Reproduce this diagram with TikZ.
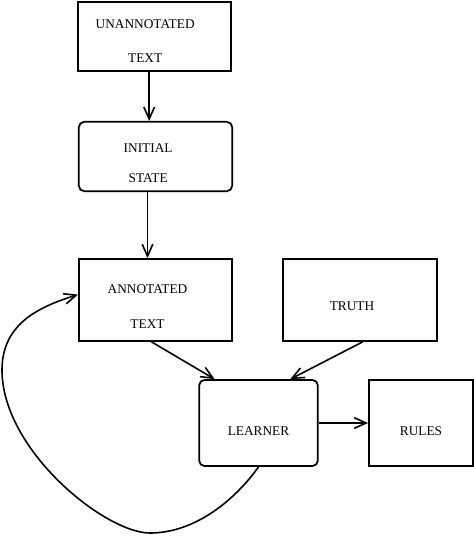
\documentclass[tikz,border=0pt]{standalone}
\usepackage{fontspec}
\setmainfont{Liberation Serif}
\usetikzlibrary{arrows.meta}

\begin{document}
\begin{tikzpicture}[x=0.75pt,y=-0.75pt,
	box_node/.style={rectangle,draw,line width=1.3pt,minimum width=115pt,minimum height=52pt},
	round_node/.style={box_node,rounded corners=4pt},
	every label/.style={align=center,font=\normalsize},
	arr/.style={line width=1.2pt,-{Straight Barb[length=9pt,width=8pt,line width=1.2pt]}}]
	\useasboundingbox (0,0) rectangle (474,536);
	\node[box_node,label={[xshift=-7pt,yshift=-3.5pt]center:UNANNOTATED\\[13.5pt]TEXT}] (unann) at (154.5,36.5) {};
	\node[round_node,label={[xshift=-5.5pt,yshift=-5pt]center:INITIAL\\[11pt]STATE}] (init) at (155.5,156.5) {};
	\node[box_node,minimum height=61.5pt,label={[xshift=-6pt,yshift=-5pt]center:ANNOTATED\\[14pt]TEXT}] (ann) at (155.5,300) {};
	\node[box_node,minimum height=61.5pt,label={[xshift=-6pt,yshift=-4.5pt]center:TRUTH}] (truth) at (360,300) {};
	\node[round_node,minimum width=89pt,minimum height=64.5pt,label={[yshift=-6pt]center:LEARNER}] (learner) at (258.5,423) {};
	\node[box_node,minimum width=78pt,minimum height=64.5pt,label={[yshift=-6pt]center:RULES}] (rules) at (421,423) {};
	
	\draw[arr] ([xshift=-4pt]unann.south) -- ([xshift=-4pt]unann.south |- init.north);
	\draw[arr] ([xshift=-6pt]init.south) -- ([xshift=-6pt]init.south |- ann.north);
	\draw[arr] ([xshift=-3pt]ann.south) -- (learner.135);
	\draw[arr] ([xshift=2pt]truth.south) -- (learner.54);
	\draw[arr] (learner.east) -- (rules.west);
	\draw[arr] (learner.south) .. controls (235,500) and (195,533) .. (150,533)
		.. controls (105,533) and (2,450) .. (2,370)
		.. controls (2,322) and (42,306) .. (ann.176);
\end{tikzpicture}
\end{document}
